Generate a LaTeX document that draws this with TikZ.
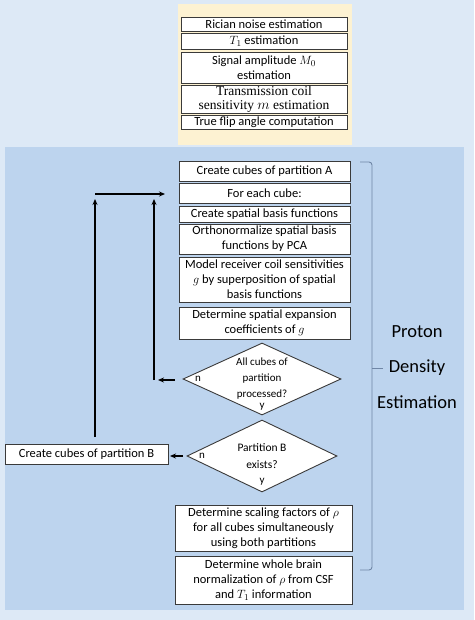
\documentclass[tikz,border=0pt]{standalone}
\usepackage{fontspec}
\setmainfont{Carlito}
\newfontfamily\serifcam{Liberation Serif}
\usetikzlibrary{shapes.geometric,arrows.meta}
\definecolor{outerbg}{HTML}{DDE9F6}
\definecolor{ybg}{HTML}{FDF2D2}
\definecolor{pbg}{HTML}{BDD4EE}
\definecolor{bord}{HTML}{3A3A3A}
\definecolor{brk}{HTML}{6F86A6}
\begin{document}
\begin{tikzpicture}[x=1pt,y=-1pt,
  box/.style={draw=bord, line width=0.9pt, fill=white, inner sep=0pt, align=center, font=\fontsize{12.5}{15}\selectfont},
  dia/.style={draw=bord, line width=0.9pt, fill=white, diamond, inner sep=0pt},
  dtext/.style={align=center, inner sep=0pt, font=\fontsize{11}{16}\selectfont},
  arr/.style={line width=1.5pt, -{Stealth[length=6pt,width=5pt]}},
  side/.style={font=\fontsize{18.5}{20}\selectfont, inner sep=0pt}
  ]
\fill[outerbg] (0,0) rectangle (474,620);
\useasboundingbox (0,0) rectangle (474,620);
\fill[ybg] (178,4) rectangle (352,145);
\fill[pbg] (5,147) rectangle (464,610);

% yellow panel boxes
\node[box, minimum width=166pt, minimum height=14pt] (r1) at (264,24) {Rician noise estimation};
\node[box, minimum width=166pt, minimum height=16pt] (r2) at (264,41) {$T_1$ estimation};
\node[box, minimum width=166pt, minimum height=31pt] (r3) at (264,67.5) {Signal amplitude $M_0$\\estimation};
\node[box, minimum width=166pt, minimum height=28pt, font=\serifcam\fontsize{13.5}{14}\selectfont] (r4) at (264,99) {Transmission coil\\sensitivity $m$ estimation};
\node[box, minimum width=166pt, minimum height=14pt] (r5) at (264,122) {True flip angle computation};

% blue panel boxes
\node[box, minimum width=171pt, minimum height=20pt] (a1) at (264.5,171) {Create cubes of partition A};
\node[box, minimum width=171pt, minimum height=20pt] (a2) at (264.5,193) {For each cube:};
\node[box, minimum width=171pt, minimum height=16pt] (a3) at (264.5,214) {Create spatial basis functions};
\node[box, minimum width=171pt, minimum height=30pt] (a4) at (264.5,239) {Orthonormalize spatial basis\\functions by PCA};
\node[box, minimum width=171pt, minimum height=45pt] (a5) at (264.5,279.5) {Model receiver coil sensitivities\\$g$ by superposition of spatial\\basis functions};
\node[box, minimum width=171pt, minimum height=32pt] (a6) at (264.5,323) {Determine spatial expansion\\coefficients of $g$};

\node[dia, minimum width=158pt, minimum height=72pt] (d1) at (262,379) {};
\node[dtext] (d1t) at (262,379) {All cubes of\\partition\\processed?};
\node[dtext] (d1n) at (198,379) {n};
\node[dtext] (d1y) at (262,407) {y};

\node[dia, minimum width=150pt, minimum height=72pt] (d2) at (262,456) {};
\node[dtext, font=\fontsize{11.5}{17}\selectfont] (d2t) at (262,456) {Partition B\\exists?};
\node[dtext] (d2n) at (202,456) {n};
\node[dtext] (d2y) at (262,482) {y};

\node[box, minimum width=163pt, minimum height=20pt] (pb) at (86.5,454) {Create cubes of partition B};

\node[box, minimum width=177pt, minimum height=46pt] (s1) at (263.5,528) {Determine scaling factors of $\rho$\\for all cubes simultaneously\\using both partitions};
\node[box, minimum width=177pt, minimum height=48pt] (s2) at (263.5,580) {Determine whole brain\\normalization of $\rho$ from CSF\\and $T_1$ information};

% connectors
\coordinate (h0) at (95,194);
\coordinate (h1) at (165,194);
\coordinate (v1t) at (154,199);
\coordinate (v1b) at (154,380);
\coordinate (e1) at (175,380);
\coordinate (e1t) at (158,380);
\coordinate (v2t) at (95,199);
\coordinate (v2b) at (95,437);
\coordinate (e2) at (183,456);
\coordinate (e2t) at (170,456);

\draw[arr] (h0) -- (h1);
\draw[arr] (e1) -- (e1t);
\draw[arr] (v1b) -- (v1t);
\draw[arr] (e2) -- (e2t);
\draw[arr] (v2b) -- (v2t);

% bracket
\draw[brk, line width=0.9pt, rounded corners=3pt] (360,162) -- (372,162) -- (372,570) -- (360,570);
\coordinate (bm) at (372,368);
\draw[brk, line width=0.9pt] (bm) -- (383,368);

\node[side] (p1) at (417,332) {Proton};
\node[side] (p2) at (417,368) {Density};
\node[side] (p3) at (417,402) {Estimation};
\end{tikzpicture}
\end{document}
